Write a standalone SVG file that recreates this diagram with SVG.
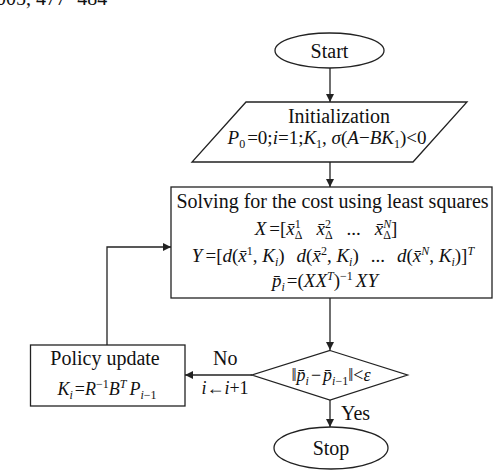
<svg xmlns="http://www.w3.org/2000/svg" width="500" height="471" viewBox="0 0 500 471">
<style>
.ln{fill:none;stroke:#222;stroke-width:1.3}
.sh{fill:#fff;stroke:#222;stroke-width:1.3}
.t{font-family:"Liberation Serif",serif;font-size:20px;fill:#111}
.m{font-family:"Liberation Serif",serif;font-size:18px;fill:#111}
.b{font-size:19px}
.i{font-style:italic}
.s{font-size:12px}
</style>
<defs>
<marker id="ah" viewBox="0 0 10 10" refX="10" refY="5" markerWidth="8" markerHeight="8" markerUnits="userSpaceOnUse" orient="auto">
<path d="M0,0 L10,5 L0,10 z" fill="#222"/>
</marker>
</defs>
<text class="t" x="-4" y="5" font-size="18">005, 477−484</text>
<g id="connectors">
<line class="ln" x1="330" y1="68" x2="330" y2="102" marker-end="url(#ah)"/>
<line class="ln" x1="330" y1="162" x2="330" y2="187" marker-end="url(#ah)"/>
<line class="ln" x1="330" y1="298" x2="330" y2="350" marker-end="url(#ah)"/>
<line class="ln" x1="252" y1="375" x2="185" y2="375" marker-end="url(#ah)"/>
<polyline class="ln" points="107,345 107,247 171,247" marker-end="url(#ah)"/>
<line class="ln" x1="330" y1="400" x2="330" y2="427" marker-end="url(#ah)"/>
<text class="t" x="213" y="365">No</text>
<text class="m" x="225" y="394" text-anchor="middle"><tspan class="i">i</tspan>←<tspan class="i">i</tspan>+1</text>
<text class="t" x="341" y="420">Yes</text>
</g>
<g id="start">
<ellipse class="sh" cx="329.5" cy="50.5" rx="54.5" ry="17.5"/>
<text class="t" x="329.5" y="58" text-anchor="middle">Start</text>
</g>
<g id="init">
<polygon class="sh" points="246,102 467,102 413,162 192,162"/>
<text class="t" x="339" y="123" text-anchor="middle">Initialization</text>
<text class="m b" x="327" y="144" text-anchor="middle"><tspan class="i">P</tspan><tspan class="s" dy="4">0</tspan><tspan dy="-4" dx="2">=0;</tspan><tspan class="i">i</tspan>=1;<tspan class="i">K</tspan><tspan class="s" dy="4">1</tspan><tspan dy="-4">, </tspan><tspan class="i">σ</tspan>(<tspan class="i">A</tspan>−<tspan class="i">BK</tspan><tspan class="s" dy="4">1</tspan><tspan dy="-4">)&lt;0</tspan></text>
</g>
<g id="solve">
<rect class="sh" x="171" y="187" width="321" height="111"/>
<text class="t" x="332.5" y="208" text-anchor="middle">Solving for the cost using least squares</text>
<text class="m b" x="326" y="235" text-anchor="middle"><tspan class="i">X</tspan><tspan dx="3">=[</tspan><tspan class="i">x̄</tspan><tspan class="s" dy="-7">1</tspan><tspan class="s" dx="-6" dy="11">Δ</tspan><tspan class="i" dx="14" dy="-4">x̄</tspan><tspan class="s" dy="-7">2</tspan><tspan class="s" dx="-6" dy="11">Δ</tspan><tspan dx="14" dy="-4">...</tspan><tspan class="i" dx="14">x̄</tspan><tspan class="s i" dy="-7">N</tspan><tspan class="s" dx="-8" dy="11">Δ</tspan><tspan dy="-4">]</tspan></text>
<text class="m b" x="333" y="262" text-anchor="middle"><tspan class="i">Y</tspan><tspan dx="3">=[</tspan><tspan class="i">d</tspan>(<tspan class="i">x̄</tspan><tspan class="s" dy="-7">1</tspan><tspan dy="7">, </tspan><tspan class="i">K</tspan><tspan class="s i" dy="4">i</tspan><tspan dy="-4">)</tspan><tspan class="i" dx="12">d</tspan>(<tspan class="i">x̄</tspan><tspan class="s" dy="-7">2</tspan><tspan dy="7">, </tspan><tspan class="i">K</tspan><tspan class="s i" dy="4">i</tspan><tspan dy="-4">)</tspan><tspan dx="12">...</tspan><tspan class="i" dx="12">d</tspan>(<tspan class="i">x̄</tspan><tspan class="s i" dy="-7">N</tspan><tspan dy="7">, </tspan><tspan class="i">K</tspan><tspan class="s i" dy="4">i</tspan><tspan dy="-4">)]</tspan><tspan class="s i" dy="-7">T</tspan></text>
<text class="m b" x="325" y="287" text-anchor="middle"><tspan class="i">p̄</tspan><tspan class="s i" dy="4">i</tspan><tspan dy="-4" dx="2">=(</tspan><tspan class="i">XX</tspan><tspan class="s i" dy="-7">T</tspan><tspan dy="7">)</tspan><tspan class="s" dy="-7">−1</tspan><tspan class="i" dy="7" dx="3">XY</tspan></text>
</g>
<g id="decision">
<polygon class="sh" points="330,350.5 407.5,375 330,400 252,375"/>
<text class="m" x="331" y="381" text-anchor="middle">‖<tspan class="i">p̄</tspan><tspan class="s i" dy="4">i</tspan><tspan dy="-4" dx="2">−</tspan><tspan class="i" dx="2">p̄</tspan><tspan class="s i" dy="4">i</tspan><tspan class="s">−1</tspan><tspan dy="-4">‖&lt;</tspan><tspan class="i">ε</tspan></text>
</g>
<g id="policy">
<rect class="sh" x="30.5" y="345" width="154.5" height="61"/>
<text class="t" x="105" y="365" text-anchor="middle">Policy update</text>
<text class="m" x="107" y="395" text-anchor="middle"><tspan class="i">K</tspan><tspan class="s i" dy="4">i</tspan><tspan dy="-4" dx="2">=</tspan><tspan class="i">R</tspan><tspan class="s" dy="-7">−1</tspan><tspan class="i" dy="7">B</tspan><tspan class="s i" dy="-7">T</tspan><tspan class="i" dy="7" dx="3">P</tspan><tspan class="s i" dy="4">i</tspan><tspan class="s">−1</tspan></text>
</g>
<g id="stop">
<ellipse class="sh" cx="331" cy="448" rx="57" ry="21"/>
<text class="t" x="331" y="455" text-anchor="middle">Stop</text>
</g>
</svg>
